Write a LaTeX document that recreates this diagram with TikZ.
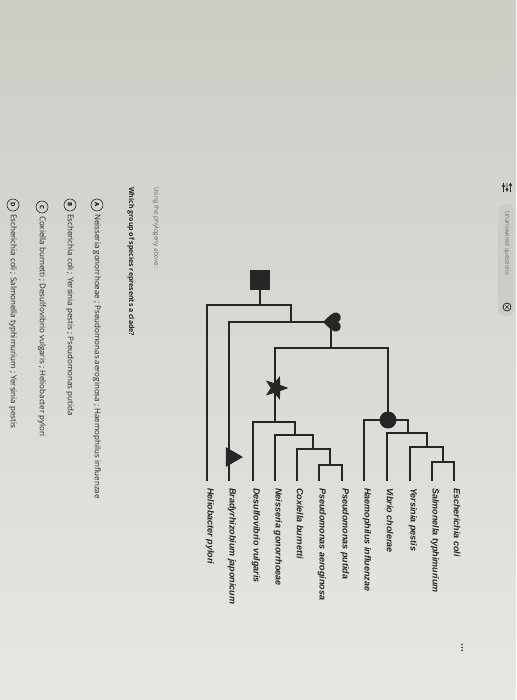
\documentclass[tikz,border=0pt]{standalone}
\usepackage{fontspec}
\setmainfont{Liberation Sans}
\newfontfamily\uifont{Open Sans}
\usetikzlibrary{shapes.geometric, positioning, calc}

\definecolor{bgtop}{RGB}{205,204,197}
\definecolor{bgbot}{RGB}{231,231,227}
\definecolor{ink}{RGB}{38,38,38}
\definecolor{pillgray}{RGB}{204,204,200}
\definecolor{uigray}{RGB}{105,105,105}

\begin{document}
\begin{tikzpicture}[x=1pt, y=-1pt,
  branch/.style={ink, line width=1.9pt, line cap=rect},
  marker/.style={fill=ink, draw=none, inner sep=0pt},
  taxon/.style={rotate=-90, anchor=west, inner sep=0pt, text=ink,
    font=\fontsize{9}{10}\selectfont\bfseries\itshape},
  uitext/.style={rotate=-90, anchor=west, inner sep=0pt, text=ink,
    font=\uifont\fontsize{8}{9}\selectfont},
  choice/.style={circle, draw=ink, line width=0.6pt, minimum size=12pt,
    inner sep=0pt, rotate=-90, font=\uifont\fontsize{6}{7}\selectfont\bfseries}]

  % Photo background
  \shade[top color=bgtop, bottom color=bgbot] (0,0) rectangle (516,700);
  \useasboundingbox (0,0) rectangle (516,700);

  % Header
  \node[fill=pillgray, rounded corners=7pt, minimum width=16pt, minimum height=112pt,
    inner sep=0pt] (pill) at (506,260) {};
  \node[uitext, text=uigray, font=\uifont\fontsize{6}{7}\selectfont] (hdr) at (507,211)
    {Unanswered questions};
  \node[circle, draw=ink, line width=0.8pt, minimum size=8pt, inner sep=0pt] (close) at (507,307) {};
  \draw[ink, line width=0.6pt] ($(close)+(-1.6,-1.6)$) -- ($(close)+(1.6,1.6)$)
    ($(close)+(-1.6,1.6)$) -- ($(close)+(1.6,-1.6)$);
  \foreach \fx/\knob in {503.5/186, 507/189.5, 510.5/185}
    \draw[ink, line width=0.7pt] (\fx,183) -- (\fx,192) (\fx,\knob) circle (1.1pt);
  \node[ink, rotate=-90, font=\bfseries\fontsize{10}{10}\selectfont] (more) at (462,648) {...};

  % Question
  \node[uitext, text=uigray, font=\uifont\fontsize{6.3}{7}\selectfont] (intro) at (156,187)
    {Using the phylogeny above:};
  \node[uitext, font=\uifont\fontsize{7}{8}\selectfont\bfseries] (quest) at (131,187)
    {Which group of species represents a clade?};

  % Answers
  \node[choice] (cA) at (97,205) {A};
  \node[choice] (cB) at (70,205) {B};
  \node[choice] (cC) at (42,207) {C};
  \node[choice] (cD) at (13,205) {D};
  \node[uitext] (tA) at (97,214) {Neisseria gonorrhoeae ; Pseudomonas aeroginosa ; Haemophilus influenzae};
  \node[uitext] (tB) at (70,214) {Escherichia coli ; Yersinia pestis ; Pseudomonas putida};
  \node[uitext] (tC) at (42,216) {Coxiella burnetti ; Desulfovibrio vulgaris ; Heliobacter pylori};
  \node[uitext] (tD) at (13,214) {Escherichia coli ; Salmonella typhimurium ; Yersinia pestis};

  % Tips
  \coordinate (helico) at (207,480);
  \coordinate (brady) at (229,480);
  \coordinate (desulfo) at (253,480);
  \coordinate (neis) at (275,480);
  \coordinate (coxi) at (297,480);
  \coordinate (paer) at (319,480);
  \coordinate (pput) at (342,480);
  \coordinate (haem) at (364,480);
  \coordinate (vib) at (387,480);
  \coordinate (yers) at (410,480);
  \coordinate (salm) at (432,480);
  \coordinate (ecoli) at (454,480);

  % Internal nodes (stem x, bar y)
  \coordinate (root) at (260,305);
  \coordinate (nA) at (291,322);
  \coordinate (nB) at (331,348);
  \coordinate (nC) at (275,422);
  \coordinate (nC2) at (295,435);
  \coordinate (nC3) at (313,449);
  \coordinate (nC4) at (330,465);
  \coordinate (nD) at (388,420);
  \coordinate (nD2) at (408,433);
  \coordinate (nD3) at (427,447);
  \coordinate (nD4) at (443,462);

  % Branches
  \node[marker, rectangle, minimum size=19.5pt] (sq) at (260,280) {};
  \draw[branch] (sq) -- (root);
  \draw[branch] (helico) |- (root) -| (nA);
  \draw[branch] (brady) |- (nA) -| (nB);
  \draw[branch] (nC) |- (nB) -| (nD);
  \draw[branch] (desulfo) |- (nC) -| (nC2);
  \draw[branch] (neis) |- (nC2) -| (nC3);
  \draw[branch] (coxi) |- (nC3) -| (nC4);
  \draw[branch] (paer) |- (nC4) -| (pput);
  \draw[branch] (haem) |- (nD) -| (nD2);
  \draw[branch] (vib) |- (nD2) -| (nD3);
  \draw[branch] (yers) |- (nD3) -| (nD4);
  \draw[branch] (salm) |- (nD4) -| (ecoli);

  % Characters
  \coordinate (hrt) at ($(nB |- nA)+(1.5,0)$);
  \fill[ink, shift={(hrt)}, scale=9.5]
    (-1,0) .. controls (-0.4,-0.6) and (0.1,-1.1) .. (0.45,-1)
    .. controls (0.95,-0.9) and (1.0,-0.2) .. (0.6,0)
    .. controls (1.0,0.2) and (0.95,0.9) .. (0.45,1)
    .. controls (0.1,1.1) and (-0.4,0.6) .. (-1,0) -- cycle;
  \node[marker, star, star points=5, star point ratio=2.4, minimum size=25pt,
    rotate=-90] (str) at (276,388) {};
  \node[marker, circle, minimum size=17pt] (dot) at (nD) {};
  \node[marker, regular polygon, regular polygon sides=3, minimum size=23pt,
    rotate=-90] (tri) at (231.5,457) {};

  % Labels
  \node[taxon] (helicoL) at (210,488) {Heliobacter pylori};
  \node[taxon] (bradyL) at (232,488) {Bradyrhizobium japonicum};
  \node[taxon] (desulfoL) at (256,488) {Desulfovibrio vulgaris};
  \node[taxon] (neisL) at (278,488) {Neisseria gonorrhoeae};
  \node[taxon] (coxiL) at (300,488) {Coxiella burnetti};
  \node[taxon] (paerL) at (322,488) {Pseudomonas aeroginosa};
  \node[taxon] (pputL) at (345,488) {Pseudomonas putida};
  \node[taxon] (haemL) at (367,488) {Haemophilus influenzae};
  \node[taxon] (vibL) at (390,488) {Vibrio cholerae};
  \node[taxon] (yersL) at (413,488) {Yersinia pestis};
  \node[taxon] (salmL) at (435,488) {Salmonella typhimurium};
  \node[taxon] (ecoliL) at (457,488) {Escherichia coli};
\end{tikzpicture}
\end{document}
